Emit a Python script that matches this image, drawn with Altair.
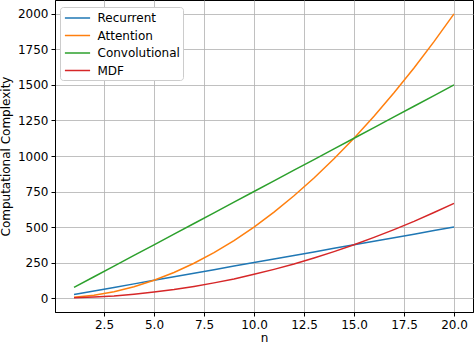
import altair as alt
import pandas as pd

n = list(range(1, 21))
recurrent = [25, 50, 75, 100, 125, 150, 175, 200, 225, 250, 275, 300, 325, 350, 375, 400, 425, 450, 475, 500]
attention = [5, 20, 45, 80, 125, 180, 245, 320, 405, 500, 605, 720, 845, 980, 1125, 1280, 1445, 1620, 1805, 2000]
convolutional = [75, 150, 225, 300, 375, 450, 525, 600, 675, 750, 825, 900, 975, 1050, 1125, 1200, 1275, 1350, 1425, 1500]
mdf = [2, 7, 15, 27, 42, 60, 82, 107, 135, 167, 202, 240, 282, 327, 375, 427, 482, 540, 602, 667]

series = ["Recurrent", "Attention", "Convolutional", "MDF"]
colors = ["#1f77b4", "#ff7f0e", "#2ca02c", "#d62728"]

rows = []
for name, vals in zip(series, [recurrent, attention, convolutional, mdf]):
    for x, y in zip(n, vals):
        rows.append({"n": x, "value": y, "model": name})
df = pd.DataFrame(rows)

font = "DejaVu Sans"

chart = alt.Chart(df).mark_line(strokeWidth=1.5).encode(
    x=alt.X("n:Q", title="n",
            scale=alt.Scale(domain=[0.05, 20.95], nice=False, zero=False),
            axis=alt.Axis(values=[2.5, 5, 7.5, 10, 12.5, 15, 17.5, 20], format=".1f")),
    y=alt.Y("value:Q", title="Computational Complexity",
            scale=alt.Scale(domain=[-98, 2098], nice=False, zero=False),
            axis=alt.Axis(values=[0, 250, 500, 750, 1000, 1250, 1500, 1750, 2000], format="d")),
    color=alt.Color("model:N", sort=series,
                    scale=alt.Scale(domain=series, range=colors),
                    legend=alt.Legend(title=None, orient="none", legendX=5, legendY=7,
                                      symbolType="M-1.8,0L1.8,0", symbolSize=196, symbolStrokeWidth=1.5,
                                      symbolOffset=6.5,
                                      labelFontSize=12, labelFont=font, rowPadding=3.5,
                                      fillColor="white", strokeColor="#cccccc", cornerRadius=3,
                                      padding=3, labelOffset=12)),
    order=alt.Order("n:Q"),
).properties(
    width=418, height=312,
    autosize=alt.AutoSizeParams(type="none"),
    padding={"left": 55, "top": 0, "right": 1, "bottom": 34},
).configure_axis(
    labelFont=font, titleFont=font, labelFontSize=12, titleFontSize=12,
    titleFontWeight="normal", labelColor="black", titleColor="black",
    domainColor="black", tickColor="black", tickSize=4,
    gridColor="#b0b0b0", gridOpacity=0.8, labelPadding=3,
).configure_axisY(titlePadding=5).configure_axisX(titlePadding=2).configure_view(
    stroke="black", strokeWidth=1
)

chart.save("out.html", embed_options={"renderer": "svg", "actions": False})
